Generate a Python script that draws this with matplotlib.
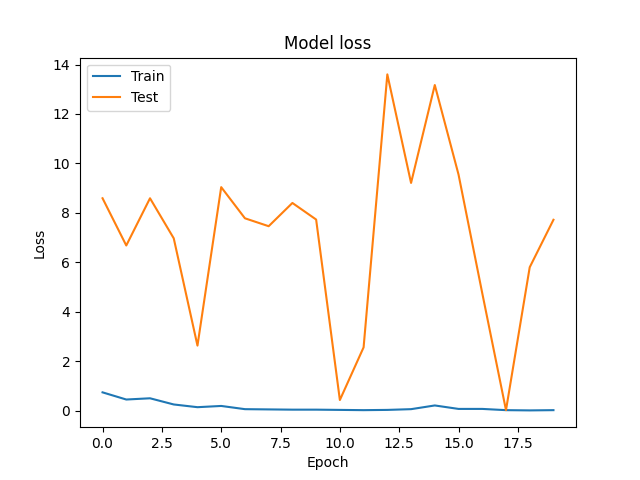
import matplotlib
matplotlib.use("Agg")
import matplotlib.pyplot as plt

train_loss = [0.74, 0.45, 0.50, 0.25, 0.14, 0.19, 0.06, 0.05, 0.04, 0.04,
              0.03, 0.02, 0.03, 0.06, 0.21, 0.07, 0.07, 0.02, 0.01, 0.02]
test_loss = [8.59, 6.68, 8.59, 6.97, 2.63, 9.04, 7.78, 7.46, 8.40, 7.73,
             0.43, 2.56, 13.6, 9.21, 13.17, 9.55, 4.75, 0.02, 5.8, 7.72]

fig = plt.figure(figsize=(6.4, 4.8), dpi=100)
plt.plot(train_loss)
plt.plot(test_loss)
plt.title('Model loss')
plt.ylabel('Loss')
plt.xlabel('Epoch')
plt.legend(['Train', 'Test'], loc='upper left')
plt.savefig('out.png')
